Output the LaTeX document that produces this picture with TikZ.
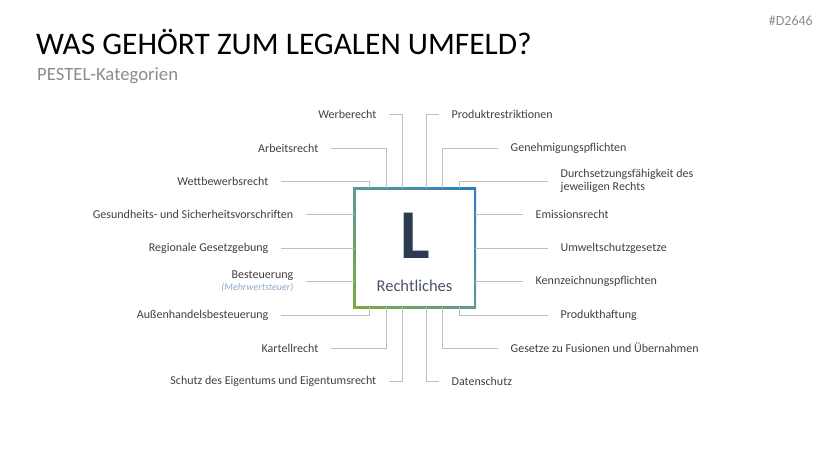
\documentclass[tikz,border=0pt]{standalone}
\usepackage{fontspec}
\setmainfont{Carlito}
\usetikzlibrary{positioning,shadings}
\definecolor{linegray}{HTML}{BFBFBF}
\definecolor{txtgray}{HTML}{404040}
\definecolor{subgray}{HTML}{8C8C8C}
\definecolor{navyL}{HTML}{2C3B4F}
\definecolor{navytxt}{HTML}{4A5568}
\definecolor{hintblue}{HTML}{8FA8C8}
\definecolor{boxblue}{HTML}{2A7BC2}
\definecolor{boxgreen}{HTML}{7AAA3C}
\definecolor{boxteal}{HTML}{5E9A98}
\tikzset{
  lbl/.style={font=\fontsize{12}{13}\selectfont, text=txtgray, inner xsep=12.5pt, inner ysep=0pt},
  lleft/.style={lbl, anchor=east, align=right},
  lright/.style={lbl, anchor=west, align=left},
  conn/.style={draw=linegray, line width=0.8pt}
}
\begin{document}
\begin{tikzpicture}[x=1pt,y=-1pt]
\useasboundingbox (0,0) rectangle (829,466);
% header
\node[anchor=base west, inner sep=0pt, font=\fontsize{31.4}{31.4}\selectfont, text=black] (title) at (36,54) {WAS GEHÖRT ZUM LEGALEN UMFELD?};
\node[anchor=base west, inner sep=0pt, font=\fontsize{18.7}{18.7}\selectfont, text=subgray] (subtitle) at (37,80) {PESTEL-Kategorien};
\node[anchor=base east, inner sep=0pt, font=\fontsize{14}{14}\selectfont, text=subgray] (code) at (813,25) {\#D2646};
% box
\coordinate (box) at (414.5,247.5);
\shade[lower left=boxgreen, upper right=boxblue, upper left=boxteal, lower right=boxteal] (353,187) rectangle (476,308);
\fill[white] (355.5,189.5) rectangle (473.5,305.5);
\node[anchor=base, inner sep=0pt, font=\bfseries\fontsize{70}{70}\selectfont, text=navyL] (letter) at (415,258) {L};
\node[anchor=base, inner sep=0pt, font=\fontsize{16.5}{16.5}\selectfont, text=navytxt] (cat) at (414.5,291) {Rechtliches};
% attachment points on the box
\coordinate (t1) at (369,188);
\coordinate (t2) at (386,188);
\coordinate (t3) at (402,188);
\coordinate (t4) at (426,188);
\coordinate (t5) at (442,188);
\coordinate (t6) at (459,188);
\coordinate (b1) at (369,307);
\coordinate (b2) at (386,307);
\coordinate (b3) at (402,307);
\coordinate (b4) at (426,307);
\coordinate (b5) at (442,307);
\coordinate (b6) at (459,307);
\coordinate (w1) at (354,214);
\coordinate (w2) at (354,248);
\coordinate (w3) at (354,281);
\coordinate (e1) at (475,214);
\coordinate (e2) at (475,248);
\coordinate (e3) at (475,281);
% left labels
\node[lleft] (werbe) at (389,114) {Werberecht};
\node[lleft] (arbeit) at (331,148) {Arbeitsrecht};
\node[lleft] (wettbew) at (281,181) {Wettbewerbsrecht};
\node[lleft] (gesund) at (306,214) {Gesundheits- und Sicherheitsvorschriften};
\node[lleft] (regional) at (281,248) {Regionale Gesetzgebung};
\node[lleft] (steuer) at (306,281) {Besteuerung\\[-1pt]{\fontsize{10}{10}\selectfont\itshape\color{hintblue}(Mehrwertsteuer)}};
\node[lleft] (aussen) at (281,315) {Außenhandelsbesteuerung};
\node[lleft] (kartell) at (331,348) {Kartellrecht};
\node[lleft] (eigentum) at (389,381) {Schutz des Eigentums und Eigentumsrecht};
% right labels
\node[lright] (produkt) at (439,114) {Produktrestriktionen};
\node[lright] (genehm) at (498,148) {Genehmigungspflichten};
\node[lright] (durchs) at (548,181) {Durchsetzungsfähigkeit des\\jeweiligen Rechts};
\node[lright] (emiss) at (523,214) {Emissionsrecht};
\node[lright] (umwelt) at (548,248) {Umweltschutzgesetze};
\node[lright] (kennz) at (523,281) {Kennzeichnungspflichten};
\node[lright] (haftung) at (548,315) {Produkthaftung};
\node[lright] (fusion) at (498,348) {Gesetze zu Fusionen und Übernahmen};
\node[lright] (daten) at (439,381) {Datenschutz};
% connectors
\draw[conn] (werbe.east) -| (t3);
\draw[conn] (arbeit.east) -| (t2);
\draw[conn] (wettbew.east) -| (t1);
\draw[conn] (gesund.east) -- (w1);
\draw[conn] (regional.east) -- (w2);
\draw[conn] (steuer.east) -- (w3);
\draw[conn] (aussen.east) -| (b1);
\draw[conn] (kartell.east) -| (b2);
\draw[conn] (eigentum.east) -| (b3);
\draw[conn] (produkt.west) -| (t4);
\draw[conn] (genehm.west) -| (t5);
\draw[conn] (durchs.west) -| (t6);
\draw[conn] (emiss.west) -- (e1);
\draw[conn] (umwelt.west) -- (e2);
\draw[conn] (kennz.west) -- (e3);
\draw[conn] (haftung.west) -| (b6);
\draw[conn] (fusion.west) -| (b5);
\draw[conn] (daten.west) -| (b4);
\end{tikzpicture}
\end{document}
